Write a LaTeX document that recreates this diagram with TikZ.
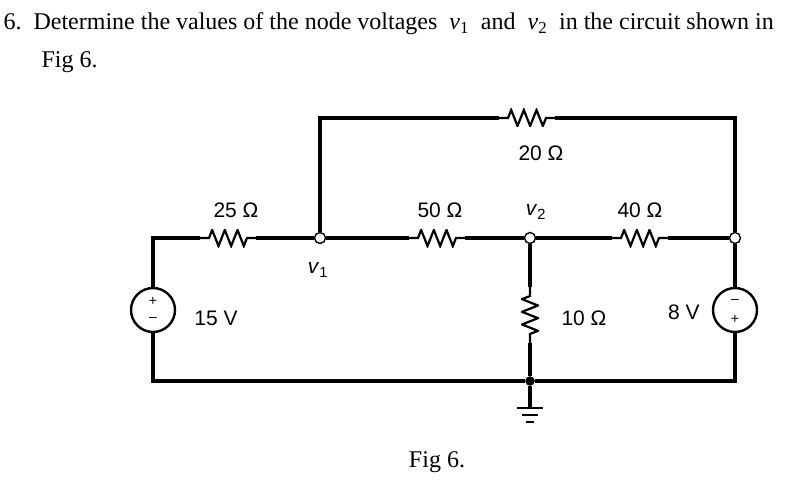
\documentclass[tikz,border=0pt]{standalone}
\usepackage{fontspec}
\setmainfont{Liberation Serif}
\newfontfamily\lblfont{Liberation Sans}
\begin{document}
\begin{tikzpicture}[x=1pt,y=-1pt,
  wire/.style = {line width=3.6pt},
  term/.style = {draw, circle, fill=white, line width=1.4pt, minimum size=11pt, inner sep=0pt},
  dot/.style = {draw, circle, fill=black, minimum size=9pt, inner sep=0pt},
  lbl/.style = {font=\lblfont\fontsize{21}{24}\selectfont},
  sgn/.style = {font=\lblfont\fontsize{14}{14}\selectfont},
  src/.style = {draw, circle, line width=2.4pt, minimum size=44pt, inner sep=0pt},
  res/.style = {minimum width=56pt, minimum height=18pt, inner sep=0pt,
    path picture={\draw[line width=2.2pt] (path picture bounding box.west) -- ++(9,0) -- ++(3.17,-8)
      -- ++(6.33,16) -- ++(6.33,-16) -- ++(6.33,16) -- ++(6.33,-16) -- ++(6.33,16) -- ++(3.17,-8) -- ++(9,0);}},
  resv/.style = {minimum width=18pt, minimum height=56pt, inner sep=0pt,
    path picture={\draw[line width=2.2pt] (path picture bounding box.north) -- ++(0,9) -- ++(-8,3.17)
      -- ++(16,6.33) -- ++(-16,6.33) -- ++(16,6.33) -- ++(-16,6.33) -- ++(16,6.33) -- ++(-8,3.17) -- ++(0,9);}}]
\useasboundingbox (0,0) rectangle (795,492);
% text
\node[anchor=west, font=\fontsize{24}{28}\selectfont] (title) at (0,24)
  {6.\enspace Determine the values of the node voltages \ \textit{v}\textsubscript{1} \ and \ \textit{v}\textsubscript{2} \ in the circuit shown in};
\node[anchor=west, font=\fontsize{24}{28}\selectfont] (fig) at (38,62) {Fig 6.};
\node[font=\fontsize{24}{28}\selectfont] (cap) at (437,462) {Fig 6.};
% corners
\coordinate (tl) at (320,118);
\coordinate (tr) at (735,118);
\coordinate (ml) at (153,238);
\coordinate (bl) at (153,381);
\coordinate (br) at (735,381);
\coordinate (g) at (530,408);
% nodes
\node[term] (v1) at (320,238) {};
\node[term] (v2) at (530,238) {};
\node[term] (n3) at (735,238) {};
\node[dot] (gnd) at (530,381) {};
\node[res] (r25) at (228,238) {};
\node[res] (r50) at (437,238) {};
\node[res] (r40) at (640,238) {};
\node[res] (r20) at (527,118) {};
\node[resv] (r10) at (530,315) {};
\node[src] (s15) at (153,310) {};
\node[src] (s8) at (735,310) {};
\node[sgn] at ([yshift=9pt]s15.center) {+};
\node[sgn] at ([yshift=-9pt]s15.center) {–};
\node[sgn] at ([yshift=9pt]s8.center) {–};
\node[sgn] at ([yshift=-9pt]s8.center) {+};
% wires
\draw[wire] (s15) -- (ml) -- (r25) -- (v1) -- (r50) -- (v2) -- (r40) -- (n3);
\draw[wire] (v1) -- (tl) -- (r20) -- (tr) -- (n3) -- (s8) -- (br) -- (gnd) -- (bl) -- (s15);
\draw[wire] (v2) -- (r10) -- (gnd) -- (g);
\draw[line width=2.4pt] ([xshift=-13pt]g) -- ([xshift=13pt]g)
  ([xshift=-8pt,yshift=-7pt]g) -- ([xshift=8pt,yshift=-7pt]g)
  ([xshift=-4pt,yshift=-14pt]g) -- ([xshift=4pt,yshift=-14pt]g);
% labels
\node[lbl] at (236,210) {25 Ω};
\node[lbl] at (440,210) {50 Ω};
\node[lbl] at (640,210) {40 Ω};
\node[lbl] at (541,153) {20 Ω};
\node[lbl] at (536,212) {\textit{v}\textsubscript{2}};
\node[lbl] at (318,270) {\textit{v}\textsubscript{1}};
\node[lbl] at (216,318) {15 V};
\node[lbl] at (584,318) {10 Ω};
\node[lbl] at (684,312) {8 V};
\end{tikzpicture}
\end{document}
